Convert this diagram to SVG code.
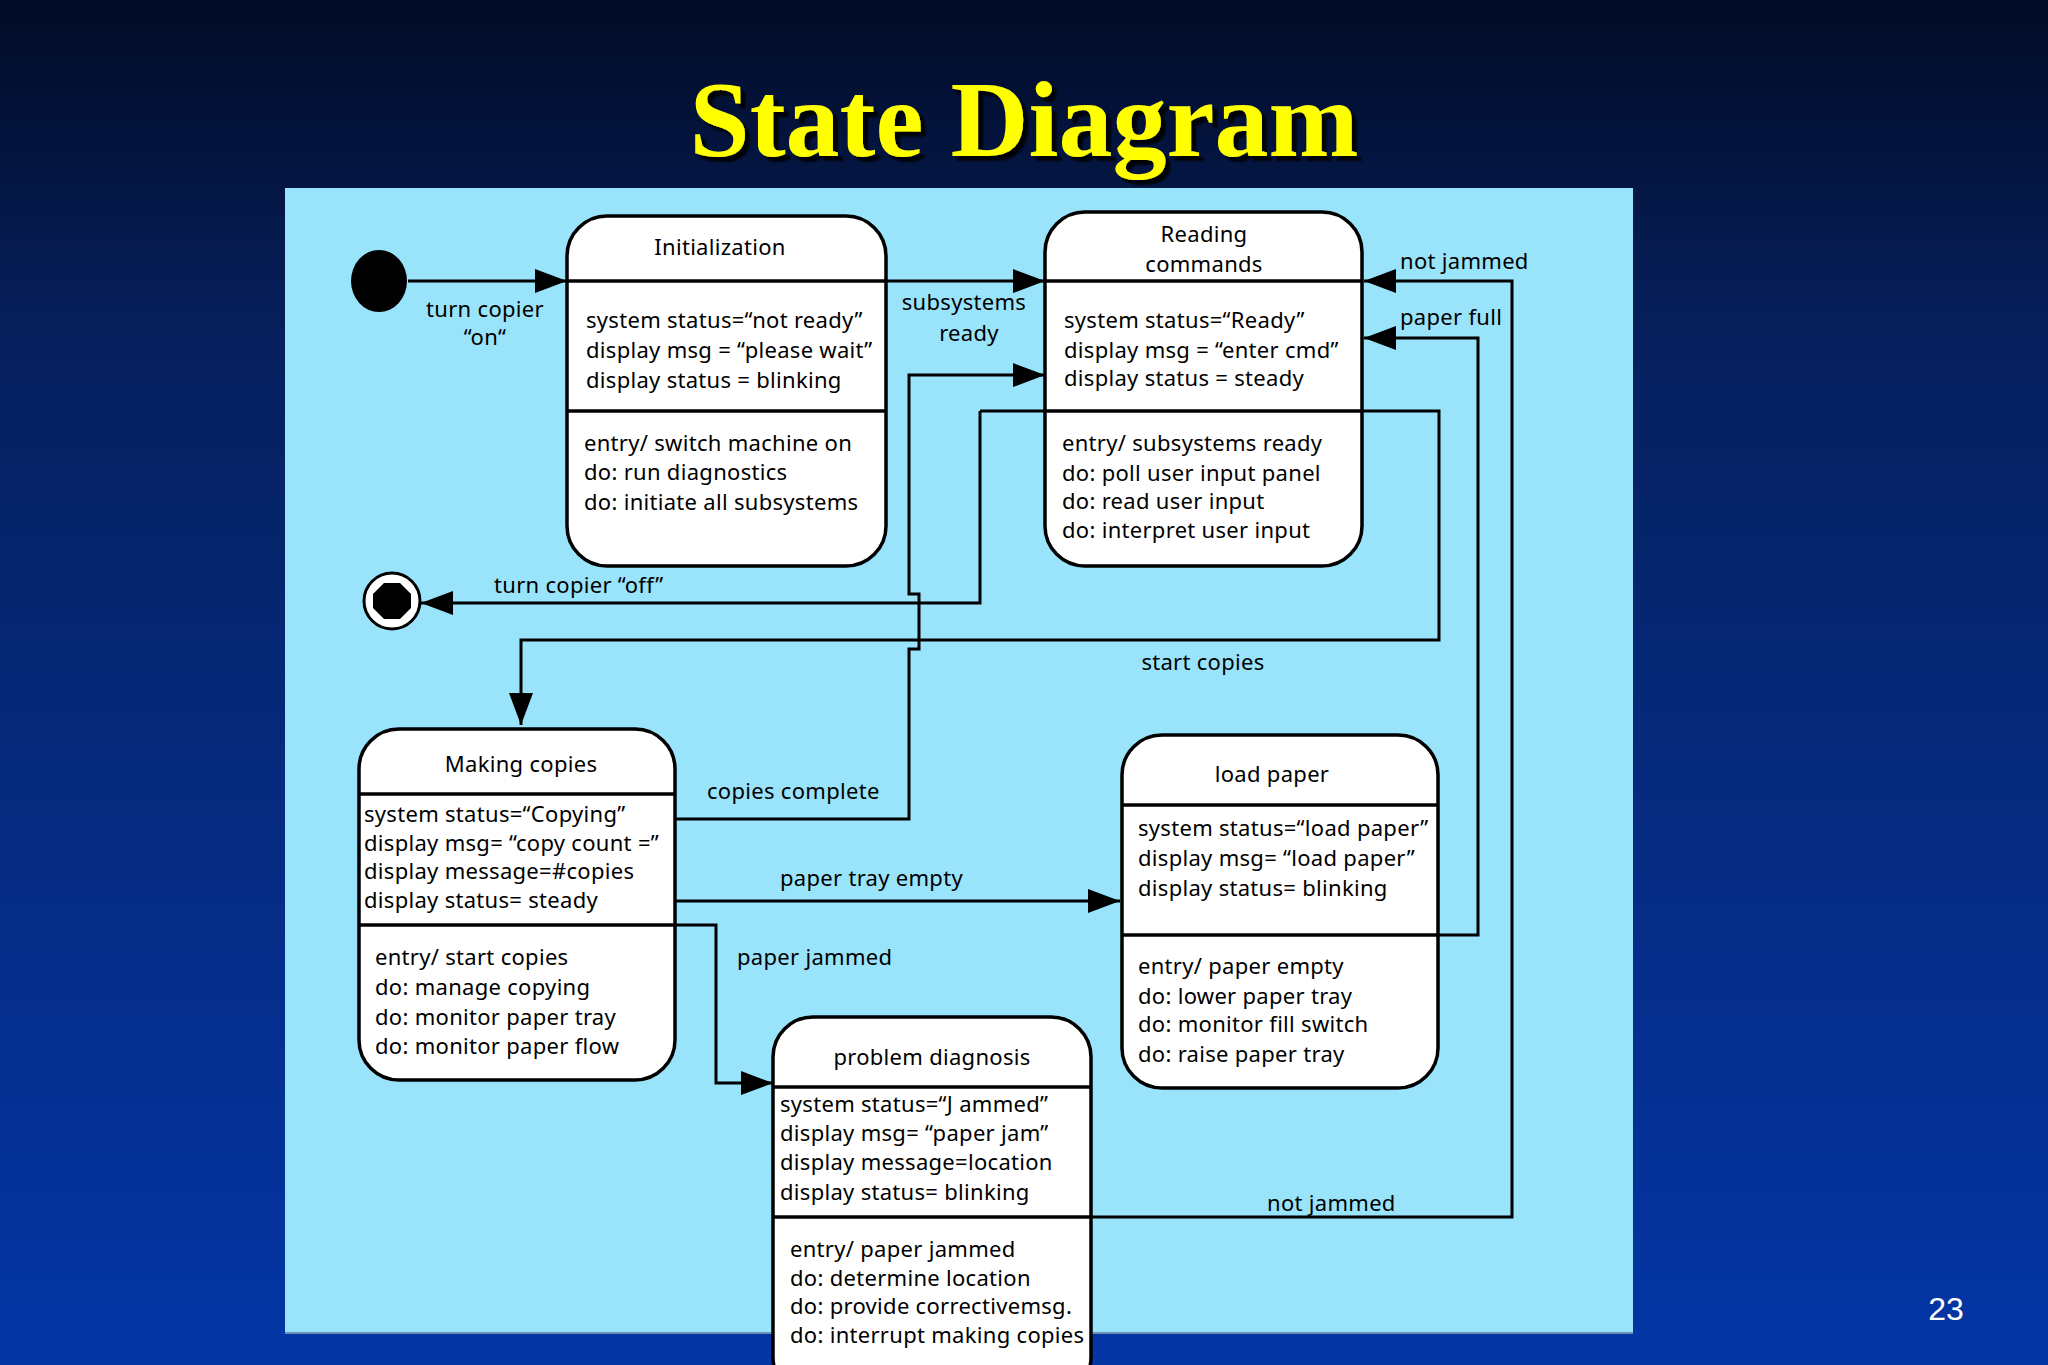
<svg xmlns="http://www.w3.org/2000/svg" width="2048" height="1365" viewBox="0 0 2048 1365">
<defs>
<linearGradient id="bg" x1="0" y1="0" x2="0" y2="1">
<stop offset="0" stop-color="#020b26"/><stop offset="0.25" stop-color="#06205e"/><stop offset="1" stop-color="#0436a6"/>
</linearGradient>
<filter id="sh" x="-5%" y="-5%" width="110%" height="120%">
<feDropShadow dx="5" dy="5" stdDeviation="1" flood-color="#000" flood-opacity="0.9"/>
</filter>
<marker id="ah" markerWidth="32" markerHeight="24" refX="32" refY="12" orient="auto" markerUnits="userSpaceOnUse">
<path d="M0,0 L32,12 L0,24 Z" fill="#000"/>
</marker>
<style>
.box{fill:#fff;stroke:#000;stroke-width:3.5}
.div{stroke:#000;stroke-width:3.5}
.t{font-family:"Noto Sans","DejaVu Sans",sans-serif;font-size:22px;letter-spacing:0.3px;fill:#000}
.c{text-anchor:middle}
.w{fill:none;stroke:#000;stroke-width:3}
</style>
</defs>
<rect width="2048" height="1365" fill="url(#bg)"/>
<text x="1024" y="156" font-family="Liberation Serif,serif" font-weight="bold" font-size="108" fill="#ffff00" text-anchor="middle" filter="url(#sh)">State Diagram</text>
<rect x="285" y="188" width="1348" height="1144" fill="#99e3fb"/>
<line x1="285" y1="1333" x2="1633" y2="1333" stroke="#6a8fb0" stroke-width="2"/>
<text x="1946" y="1320" font-family="Liberation Sans,sans-serif" font-size="32" fill="#fff" text-anchor="middle">23</text>

<g id="initial"><ellipse cx="379" cy="281" rx="28" ry="31" fill="#000"/></g>
<g id="final">
<circle cx="392" cy="601" r="28" fill="#fff" stroke="#000" stroke-width="3"/>
<polygon points="384,583 400,583 411,594 411,608 400,619 384,619 373,608 373,594" fill="#000"/>
</g>

<g id="initialization">
<rect class="box" x="567" y="216" width="319" height="350" rx="40"/>
<line class="div" x1="567" y1="281" x2="886" y2="281"/><line class="div" x1="567" y1="411" x2="886" y2="411"/>
<text class="t c" x="720" y="255">Initialization</text>
<text class="t" x="586" y="328">system status=“not ready”</text>
<text class="t" x="586" y="358">display msg = “please wait”</text>
<text class="t" x="586" y="388">display status = blinking</text>
<text class="t" x="584" y="451">entry/  switch machine on</text>
<text class="t" x="584" y="480">do: run diagnostics</text>
<text class="t" x="584" y="510">do: initiate all subsystems</text>
</g>

<g id="reading">
<rect class="box" x="1045" y="212" width="317" height="354" rx="40"/>
<line class="div" x1="1045" y1="281" x2="1362" y2="281"/><line class="div" x1="1045" y1="411" x2="1362" y2="411"/>
<text class="t c" x="1204" y="242">Reading</text>
<text class="t c" x="1204" y="272">commands</text>
<text class="t" x="1064" y="328">system status=“Ready”</text>
<text class="t" x="1064" y="358">display msg = “enter  cmd”</text>
<text class="t" x="1064" y="386">display status = steady</text>
<text class="t" x="1062" y="451">entry/  subsystems ready</text>
<text class="t" x="1062" y="481">do: poll user input panel</text>
<text class="t" x="1062" y="509">do: read user input</text>
<text class="t" x="1062" y="538">do: interpret user input</text>
</g>

<g id="making">
<rect class="box" x="359" y="729" width="316" height="351" rx="40"/>
<line class="div" x1="359" y1="794" x2="675" y2="794"/><line class="div" x1="359" y1="925" x2="675" y2="925"/>
<text class="t c" x="521" y="772">Making copies</text>
<text class="t" x="364" y="822">system status=“Copying”</text>
<text class="t" x="364" y="851">display msg= “copy count =”</text>
<text class="t" x="364" y="879">display message=#copies</text>
<text class="t" x="364" y="908">display status= steady</text>
<text class="t" x="375" y="965">entry/  start copies</text>
<text class="t" x="375" y="995">do: manage copying</text>
<text class="t" x="375" y="1025">do: monitor paper tray</text>
<text class="t" x="375" y="1054">do: monitor paper flow</text>
</g>

<g id="loadpaper">
<rect class="box" x="1122" y="735" width="316" height="353" rx="40"/>
<line class="div" x1="1122" y1="805" x2="1438" y2="805"/><line class="div" x1="1122" y1="935" x2="1438" y2="935"/>
<text class="t c" x="1272" y="782">load paper</text>
<text class="t" x="1138" y="836">system status=“load paper”</text>
<text class="t" x="1138" y="866">display msg= “load paper”</text>
<text class="t" x="1138" y="896">display status= blinking</text>
<text class="t" x="1138" y="974">entry/  paper empty</text>
<text class="t" x="1138" y="1004">do: lower paper tray</text>
<text class="t" x="1138" y="1032">do: monitor fill switch</text>
<text class="t" x="1138" y="1062">do: raise paper tray</text>
</g>

<g id="problem">
<rect class="box" x="773" y="1017" width="318" height="380" rx="40"/>
<line class="div" x1="773" y1="1087" x2="1091" y2="1087"/><line class="div" x1="773" y1="1217" x2="1091" y2="1217"/>
<text class="t c" x="932" y="1065">problem diagnosis</text>
<text class="t" x="780" y="1112">system status=“J ammed”</text>
<text class="t" x="780" y="1141">display msg= “paper jam”</text>
<text class="t" x="780" y="1170">display message=location</text>
<text class="t" x="780" y="1200">display status= blinking</text>
<text class="t" x="790" y="1257">entry/  paper jammed</text>
<text class="t" x="790" y="1286">do: determine location</text>
<text class="t" x="790" y="1314">do: provide correctivemsg.</text>
<text class="t" x="790" y="1343">do: interrupt making copies</text>
</g>

<g id="connectors">
<path class="w" d="M408,281 L567,281" marker-end="url(#ah)"/>
<path class="w" d="M886,281 L1045,281" marker-end="url(#ah)"/>
<path class="w" d="M675,819 L909,819 L909,649 L919,649 L919,594 L909,594 L909,375 L1045,375" marker-end="url(#ah)"/>
<path class="w" d="M980,411 L980,603 L421,603" marker-end="url(#ah)"/>
<path class="w" d="M980,411 L1045,411 M1362,411 L1439,411 L1439,640 L521,640 L521,725" marker-end="url(#ah)"/>
<path class="w" d="M675,901 L1120,901" marker-end="url(#ah)"/>
<path class="w" d="M675,925 L716,925 L716,1083 L773,1083" marker-end="url(#ah)"/>
<path class="w" d="M1438,935 L1478,935 L1478,338 L1364,338" marker-end="url(#ah)"/>
<path class="w" d="M1091,1217 L1512,1217 L1512,281 L1364,281" marker-end="url(#ah)"/>
<text class="t c" x="485" y="317">turn copier</text>
<text class="t c" x="485" y="345">“on“</text>
<text class="t c" x="964" y="310">subsystems</text>
<text class="t c" x="969" y="341">ready</text>
<text class="t" x="1400" y="269">not jammed</text>
<text class="t" x="1400" y="325">paper full</text>
<text class="t" x="494" y="593">turn copier “off”</text>
<text class="t c" x="1203" y="670">start copies</text>
<text class="t" x="707" y="799">copies complete</text>
<text class="t" x="780" y="886">paper tray empty</text>
<text class="t" x="737" y="965">paper jammed</text>
<text class="t" x="1267" y="1211">not jammed</text>
</g>
</svg>
